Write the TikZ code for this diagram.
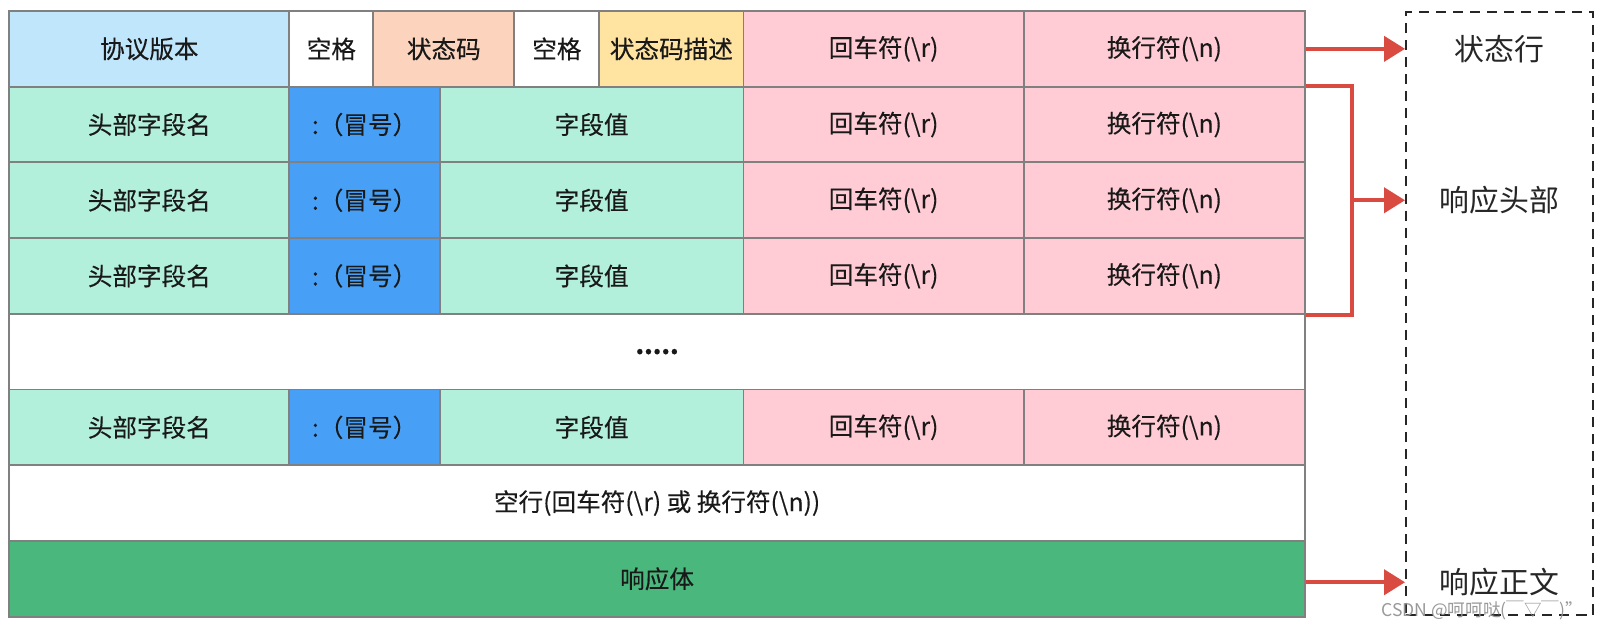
\documentclass[tikz,border=0pt]{standalone}
\usepackage{fontspec}
\setmainfont{Noto Sans CJK SC}
\newfontfamily\cellfont[FakeBold=0.3]{Noto Sans CJK SC}
\usetikzlibrary{arrows.meta,calc}

\definecolor{verblue}{RGB}{192,230,252}
\definecolor{codepeach}{RGB}{252,212,190}
\definecolor{descyellow}{RGB}{255,227,160}
\definecolor{crlfpink}{RGB}{255,204,213}
\definecolor{fieldmint}{RGB}{179,240,220}
\definecolor{colonblue}{RGB}{71,160,245}
\definecolor{bodygreen}{RGB}{74,183,124}
\definecolor{arrowred}{RGB}{217,75,65}

\begin{document}
\begin{tikzpicture}[
    cell/.style={draw=gray, line width=1.1pt, minimum height=1.514cm, inner sep=0pt, font=\cellfont\fontsize{14}{16}\selectfont, text=black!90},
    redline/.style={draw=arrowred, line width=2.3pt},
    redarrow/.style={redline, -{Triangle[length=0.42cm, width=0.5cm]}},
    part/.style={font=\fontsize{17}{20}\selectfont, text=black!85}]
    \useasboundingbox (0,0) rectangle (32.08,12.6);

    % status line
    \node[cell, minimum width=5.604cm, fill=verblue] at (2.986, 11.623) (Ver) {协议版本};
    \node[cell, minimum width=1.678cm, fill=white] at (6.627, 11.623) (Sp1) {空格};
    \node[cell, minimum width=2.822cm, fill=codepeach] at (8.877, 11.623) (Code) {状态码};
    \node[cell, minimum width=1.698cm, fill=white] at (11.137, 11.623) (Sp2) {空格};
    \node[cell, minimum width=2.884cm, fill=descyellow] at (13.428, 11.623) (Desc) {状态码描述};
    \node[cell, minimum width=5.604cm, fill=crlfpink] at (17.672, 11.623) (CR0) {回车符(\textbackslash r)};
    \node[cell, minimum width=5.626cm, fill=crlfpink] at (23.287, 11.623) (LF0) {换行符(\textbackslash n)};

    % header lines
    \node[cell, minimum width=5.604cm, fill=fieldmint] at (2.986, 10.109) (Key1) {头部字段名};
    \node[cell, minimum width=3.008cm, fill=colonblue] at (7.292, 10.109) (Col1) {:（冒号）};
    \node[cell, minimum width=6.074cm, fill=fieldmint] at (11.833, 10.109) (Val1) {字段值};
    \node[cell, minimum width=5.604cm, fill=crlfpink] at (17.672, 10.109) (CR1) {回车符(\textbackslash r)};
    \node[cell, minimum width=5.626cm, fill=crlfpink] at (23.287, 10.109) (LF1) {换行符(\textbackslash n)};

    \node[cell, minimum width=5.604cm, fill=fieldmint] at (2.986, 8.595) (Key2) {头部字段名};
    \node[cell, minimum width=3.008cm, fill=colonblue] at (7.292, 8.595) (Col2) {:（冒号）};
    \node[cell, minimum width=6.074cm, fill=fieldmint] at (11.833, 8.595) (Val2) {字段值};
    \node[cell, minimum width=5.604cm, fill=crlfpink] at (17.672, 8.595) (CR2) {回车符(\textbackslash r)};
    \node[cell, minimum width=5.626cm, fill=crlfpink] at (23.287, 8.595) (LF2) {换行符(\textbackslash n)};

    \node[cell, minimum width=5.604cm, fill=fieldmint] at (2.986, 7.081) (Key3) {头部字段名};
    \node[cell, minimum width=3.008cm, fill=colonblue] at (7.292, 7.081) (Col3) {:（冒号）};
    \node[cell, minimum width=6.074cm, fill=fieldmint] at (11.833, 7.081) (Val3) {字段值};
    \node[cell, minimum width=5.604cm, fill=crlfpink] at (17.672, 7.081) (CR3) {回车符(\textbackslash r)};
    \node[cell, minimum width=5.626cm, fill=crlfpink] at (23.287, 7.081) (LF3) {换行符(\textbackslash n)};

    \node[cell, minimum width=25.916cm, fill=white] at (13.142, 5.567) (Dots) {\textbf{.....}};

    \node[cell, minimum width=5.604cm, fill=fieldmint] at (2.986, 4.053) (KeyN) {头部字段名};
    \node[cell, minimum width=3.008cm, fill=colonblue] at (7.292, 4.053) (ColN) {:（冒号）};
    \node[cell, minimum width=6.074cm, fill=fieldmint] at (11.833, 4.053) (ValN) {字段值};
    \node[cell, minimum width=5.604cm, fill=crlfpink] at (17.672, 4.053) (CRN) {回车符(\textbackslash r)};
    \node[cell, minimum width=5.626cm, fill=crlfpink] at (23.287, 4.053) (LFN) {换行符(\textbackslash n)};

    % blank line and body
    \node[cell, minimum width=25.916cm, fill=white] at (13.142, 2.539) (Blank) {空行(回车符(\textbackslash r) 或 换行符(\textbackslash n))};
    \node[cell, minimum width=25.916cm, fill=bodygreen] at (13.142, 1.025) (Body) {响应体};

    % parts box
    \node[draw=black!85, dashed, dash pattern=on 5.7pt off 4pt, line width=1.1pt, minimum width=3.74cm, minimum height=12.066cm] at (29.99, 6.333) (Parts) {};
    \node[part] at (29.99, 11.623) (StatusLbl) {状态行};
    \node[part] at (29.99, 8.595) (HeaderLbl) {响应头部};
    \node[part] at (29.99, 0.96) (BodyLbl) {响应正文};

    \draw[redarrow] (LF0.east) -- (LF0.east -| Parts.west);
    \draw[redline] (LF1.north east) -- ++(0.92,0) |- (LF3.south east);
    \coordinate (hmid) at ($(LF1.north east)!0.5!(LF3.south east)+(0.92,0)$);
    \draw[redarrow] (hmid) -- (hmid -| Parts.west);
    \draw[redarrow] ([yshift=-0.07cm]Body.east) -- ([yshift=-0.07cm]Body.east -| Parts.west);

    \node[text=black!40, font=\fontsize{10}{12}\selectfont] at (29.64, 0.4) (Mark) {CSDN @呵呵哒(￣▽￣)"};
\end{tikzpicture}
\end{document}
